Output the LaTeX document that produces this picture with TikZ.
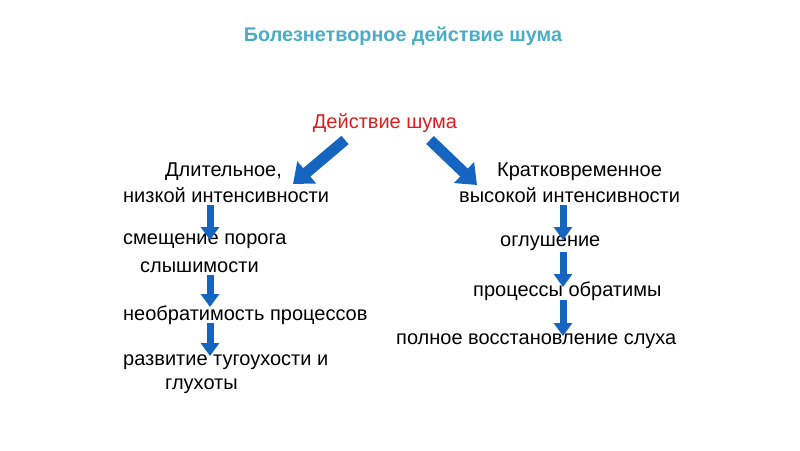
\documentclass[tikz,border=0pt]{standalone}
\usepackage{fontspec}
\setmainfont{Liberation Sans}
\usetikzlibrary{arrows.meta}
\definecolor{ttl}{RGB}{75,172,198}
\definecolor{arr}{RGB}{21,101,192}
\definecolor{red1}{RGB}{220,30,30}
\begin{document}
\begin{tikzpicture}[x=1pt,y=-1pt,
  txt/.style={font=\fontsize{20}{22}\selectfont, inner sep=0pt, anchor=west},
  fat/.style={color=arr, line width=11pt, -{Triangle[width=28pt,length=18pt]}},
  thin/.style={color=arr, line width=7pt, -{Triangle[width=18pt,length=13pt]}}]
\useasboundingbox (0,0) rectangle (800,450);
\node[font=\bfseries\fontsize{19.8}{22}\selectfont, text=ttl] (t) at (403,36) {Болезнетворное действие шума};
\node[font=\fontsize{20}{22}\selectfont, text=red1] (d) at (385,123) {Действие шума};
\coordinate (la) at (345,140); \coordinate (lb) at (293,184);
\coordinate (ra) at (430,140); \coordinate (rb) at (477,185);
\draw[fat] (la) -- (lb);
\draw[fat] (ra) -- (rb);
\node[txt] (l1) at (165,172) {Длительное,};
\node[txt] (l2) at (123,195) {низкой интенсивности};
\node[txt] (l3) at (123,241) {смещение порога};
\node[txt] (l4) at (140,267) {слышимости};
\node[txt] (l5) at (123,315) {необратимость процессов};
\node[txt] (l6) at (123,362) {развитие тугоухости и};
\node[txt] (l7) at (165,386) {глухоты};
\node[txt] (r1) at (497,172) {Кратковременное};
\node[txt] (r2) at (459,195) {высокой интенсивности};
\node[txt] (r3) at (500,243) {оглушение};
\node[txt] (r4) at (473,291) {процессы обратимы};
\node[txt] (r5) at (396,341) {полное восстановление слуха};
\draw[thin] (210,205) -- (210,240);
\draw[thin] (210,275) -- (210,307);
\draw[thin] (210,323) -- (210,356);
\draw[thin] (563,205) -- (563,240);
\draw[thin] (563,252) -- (563,287);
\draw[thin] (563,300) -- (563,336);
\end{tikzpicture}
\end{document}
